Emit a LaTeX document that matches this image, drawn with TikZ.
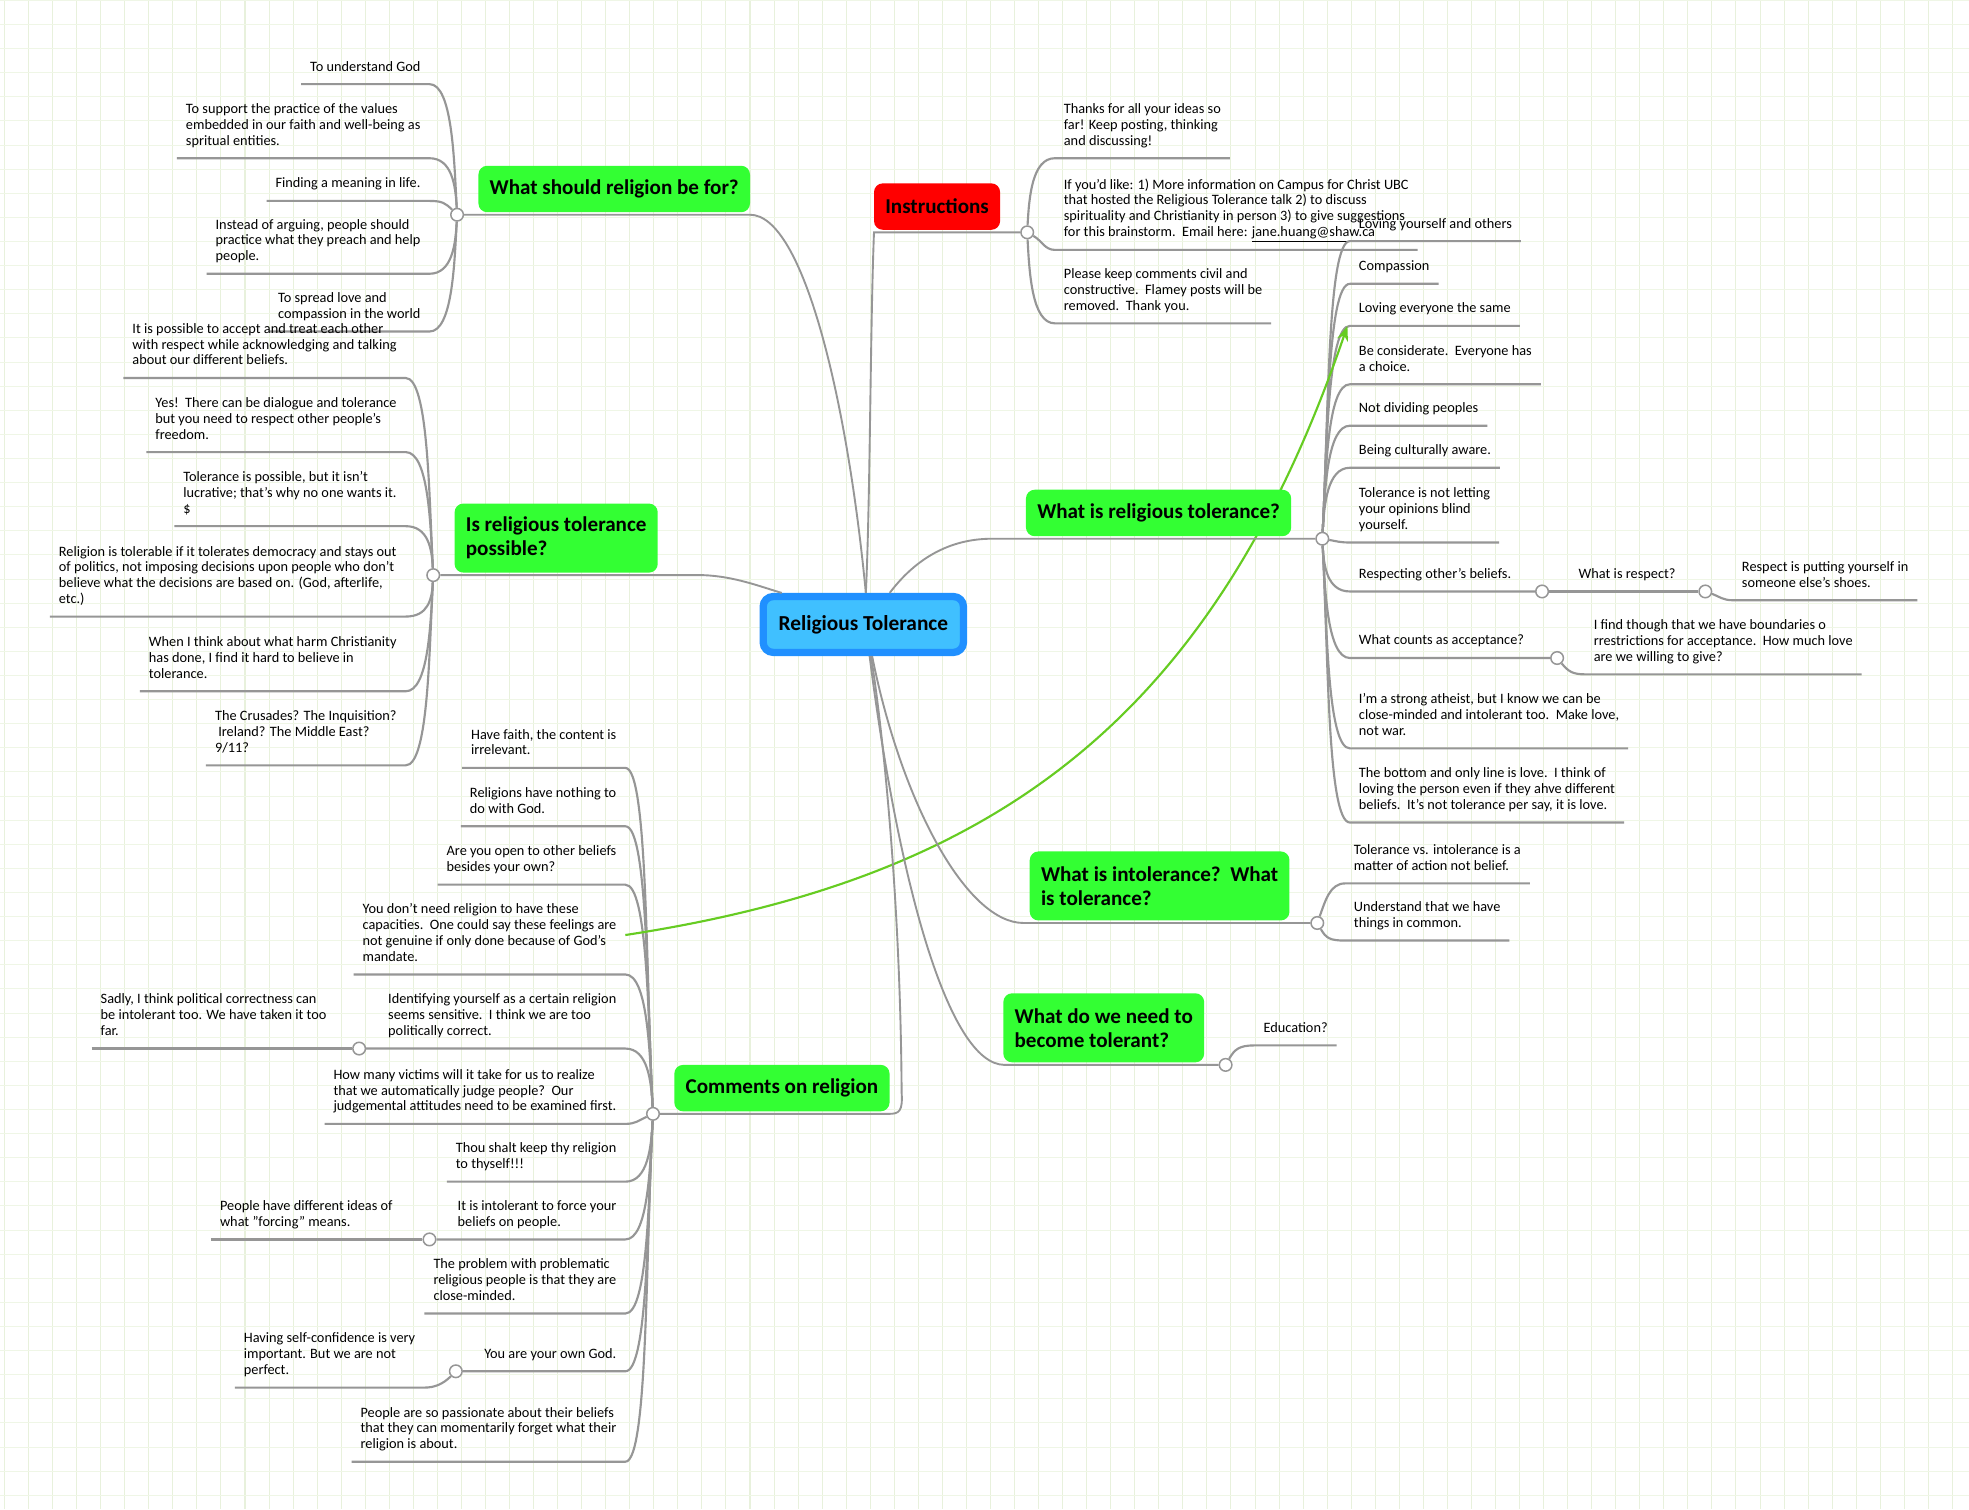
\documentclass[tikz,border=0pt]{standalone}
\usepackage{fontspec}
\setmainfont{Carlito}
\definecolor{linegrey}{RGB}{150,150,150}
\definecolor{vgrid}{RGB}{232,241,220}
\definecolor{hgrid}{RGB}{239,246,230}
\definecolor{topicgreen}{RGB}{51,255,51}
\definecolor{rootblue}{RGB}{64,192,255}
\definecolor{rootedge}{RGB}{32,144,255}
\definecolor{arrowgreen}{RGB}{102,204,34}
\usetikzlibrary{arrows.meta}
\tikzstyle{base}=[x=1pt, y=-1pt]
\tikzstyle{leaf}=[align=left, inner xsep=7pt, inner ysep=6.4pt, font=\fontsize{11.4}{12.6}\selectfont, execute at end node=\strut]
\tikzstyle{leafl}=[leaf, anchor=south east]
\tikzstyle{leafr}=[leaf, anchor=south west]
\tikzstyle{topic}=[align=left, anchor=south west, fill=topicgreen, rounded corners=7pt, inner xsep=9pt, inner ysep=9pt, outer xsep=0pt, outer ysep=2pt, minimum height=37pt, font=\fontsize{16.8}{19}\selectfont\bfseries]
\tikzstyle{topictwo}=[topic, minimum height=55pt]
\tikzstyle{hub}=[circle, draw=linegrey, fill=white, line width=1.2pt, minimum size=10pt, inner sep=0pt]
\tikzstyle{stem}=[draw=linegrey, line width=1.7pt]
\tikzstyle{trunk}=[draw=linegrey, line width=1.5pt]
\tikzstyle{upl}=[out=0, in=93, out distance=18pt]
\tikzstyle{dnl}=[out=0, in=-93, out distance=18pt]
\tikzstyle{upr}=[out=180, in=87, out distance=18pt]
\tikzstyle{dnr}=[out=180, in=-87, out distance=18pt]

\begin{document}
\begin{tikzpicture}[base]
    \path [use as bounding box, fill=white] (0,0) rectangle (1568,1201.7);
    \foreach \k in {0,...,81} \draw [vgrid, line width=0.8pt] ({3.6+19.15*\k},0) -- ({3.6+19.15*\k},1201.7);
    \foreach \k in {0,...,62} \draw [hgrid, line width=0.8pt] (0,{0.3+19.2*\k}) -- (1568,{0.3+19.2*\k});

    \node [draw=rootedge, fill=rootblue, line width=5.8pt, rounded corners=8pt, minimum width=159.5pt, minimum height=44.5pt, font=\fontsize{17}{19}\selectfont\bfseries] (root) at (687.5,497.3) {Religious Tolerance};

    \node [hub] (hubshould) at (364,171) {};
    \node [hub] (hubpossible) at (345,458) {};
    \node [hub] (hubcomments) at (520,887) {};
    \node [hub] (hubidentify) at (286,835) {};
    \node [hub] (hubforce) at (342,987) {};
    \node [hub] (hubgod) at (363,1092) {};
    \node [hub] (hubinstr) at (818,185) {};
    \node [hub] (hubwhat) at (1053,429) {};
    \node [hub] (hubrespect) at (1228,471) {};
    \node [hub] (hubwhatresp) at (1358,471) {};
    \node [hub] (hubaccept) at (1240,524) {};
    \node [hub] (hubintol) at (1049,735) {};
    \node [hub] (hubneed) at (976,848) {};

    \node [leafl] (understand) at (342,67) {To understand God};
    \node [leafl] (support) at (342,126) {To support the practice of the values\\embedded in our faith and well-being as\\spritual entities.};
    \node [leafl] (finding) at (342,160) {Finding a meaning in life.};
    \node [leafl] (instead) at (342,218) {Instead of arguing, people should\\practice what they preach and help\\people.};
    \node [leafl] (spread) at (342,264) {To spread love and\\compassion in the world};
    \draw [stem] (understand.south west) -- (understand.south east) to [upl] (hubshould);
    \draw [stem] (support.south west) -- (support.south east) to [upl] (hubshould);
    \draw [stem] (finding.south west) -- (finding.south east) to [out=0, in=135, out distance=10pt] (hubshould);
    \draw [stem] (instead.south west) -- (instead.south east) to [dnl] (hubshould);
    \draw [stem] (spread.south west) -- (spread.south east) to [dnl] (hubshould);

    \node [leafl] (accept) at (323,301) {It is possible to accept and treat each other\\with respect while acknowledging and talking\\about our different beliefs.};
    \node [leafl] (dialogue) at (323,360) {Yes!\ \ There can be dialogue and tolerance\\but you need to respect other people's\\freedom.};
    \node [leafl] (lucrative) at (323,419) {Tolerance is possible, but it isn't\\lucrative; that's why no one wants it.\\\$};
    \node [leafl] (democracy) at (323,491) {Religion is tolerable if it tolerates democracy and stays out\\of politics, not imposing decisions upon people who don't\\believe what the decisions are based on. (God, afterlife,\\etc.)};
    \node [leafl] (harm) at (323,550.5) {When I think about what harm Christianity\\has done, I find it hard to believe in\\tolerance.};
    \node [leafl] (crusades) at (323,609.5) {The Crusades? The Inquisition?\\\ Ireland? The Middle East?\\9/11?};
    \draw [stem] (accept.south west) -- (accept.south east) to [upl] (hubpossible);
    \draw [stem] (dialogue.south west) -- (dialogue.south east) to [upl] (hubpossible);
    \draw [stem] (lucrative.south west) -- (lucrative.south east) to [upl] (hubpossible);
    \draw [stem] (democracy.south west) -- (democracy.south east) to [dnl] (hubpossible);
    \draw [stem] (harm.south west) -- (harm.south east) to [dnl] (hubpossible);
    \draw [stem] (crusades.south west) -- (crusades.south east) to [dnl] (hubpossible);

    \node [leafl] (faith) at (498,611.5) {Have faith, the content is\\irrelevant.};
    \node [leafl] (nothing) at (498,658) {Religions have nothing to\\do with God.};
    \node [leafl] (open) at (498,704.5) {Are you open to other beliefs\\besides your own?};
    \node [leafl] (dontneed) at (498,776) {You don't need religion to have these\\capacities.\ \ One could say these feelings are\\not genuine if only done because of God's\\mandate.};
    \node [leafl] (identify) at (498,835) {Identifying yourself as a certain religion\\seems sensitive.\ \ I think we are too\\politically correct.};
    \node [leafr] (sadly) at (73,835) {Sadly, I think political correctness can\\be intolerant too. We have taken it too\\far.};
    \node [leafl] (victims) at (498,895) {How many victims will it take for us to realize\\that we automatically judge people?\ \ Our\\judgemental attitudes need to be examined first.};
    \node [leafl] (thou) at (498,941) {Thou shalt keep thy religion\\to thyself!!!};
    \node [leafl] (force) at (498,987) {It is intolerant to force your\\beliefs on people.};
    \node [leafr] (forcing) at (168,987) {People have different ideas of\\what "forcing" means.};
    \node [leafl] (problem) at (498,1046) {The problem with problematic\\religious people is that they are\\close-minded.};
    \node [leafl] (owngod) at (498,1092) {You are your own God.};
    \node [leafr] (confidence) at (187,1105) {Having self-confidence is very\\important. But we are not\\perfect.};
    \node [leafl] (passion) at (498,1164) {People are so passionate about their beliefs\\that they can momentarily forget what their\\religion is about.};
    \draw [stem] (faith.south west) -- (faith.south east) to [upl] (hubcomments);
    \draw [stem] (nothing.south west) -- (nothing.south east) to [upl] (hubcomments);
    \draw [stem] (open.south west) -- (open.south east) to [upl] (hubcomments);
    \draw [stem] (dontneed.south west) -- (dontneed.south east) to [upl] (hubcomments);
    \draw [stem] (hubidentify) -- (identify.south east) to [upl] (hubcomments);
    \draw [stem] (sadly.south west) -- (hubidentify);
    \draw [stem] (victims.south west) -- (victims.south east) to [out=0, in=205, out distance=8pt] (hubcomments);
    \draw [stem] (thou.south west) -- (thou.south east) to [dnl] (hubcomments);
    \draw [stem] (hubforce) -- (force.south east) to [dnl] (hubcomments);
    \draw [stem] (forcing.south west) -- (hubforce);
    \draw [stem] (problem.south west) -- (problem.south east) to [dnl] (hubcomments);
    \draw [stem] (hubgod) -- (owngod.south east) to [dnl] (hubcomments);
    \draw [stem] (confidence.south west) -- (confidence.south east) to [out=0, in=225, out distance=8pt] (hubgod);
    \draw [stem] (passion.south west) -- (passion.south east) to [dnl] (hubcomments);

    \node [leafr] (thanks) at (840,126) {Thanks for all your ideas so\\far! Keep posting, thinking\\and discussing!};
    \node [leafr] (like) at (840,199) {If you'd like: 1) More information on Campus for Christ UBC\\that hosted the Religious Tolerance talk 2) to discuss\\spirituality and Christianity in person 3) to give suggestions\\for this brainstorm.\ \ Email here: \underline{jane.huang@shaw.ca}};
    \node [leafr] (civil) at (840,257.5) {Please keep comments civil and\\constructive.\ \ Flamey posts will be\\removed.\ \ Thank you.};
    \draw [stem] (thanks.south east) -- (thanks.south west) to [upr] (hubinstr);
    \draw [stem] (like.south east) -- (like.south west) to [out=180, in=-30, out distance=8pt] (hubinstr);
    \draw [stem] (civil.south east) -- (civil.south west) to [dnr] (hubinstr);

    \node [leafr] (loving) at (1075,192) {Loving yourself and others};
    \node [leafr] (compassion) at (1075,226) {Compassion};
    \node [leafr] (everyone) at (1075,259.5) {Loving everyone the same};
    \node [leafr] (considerate) at (1075,306) {Be considerate.\ \ Everyone has\\a choice.};
    \node [leafr] (dividing) at (1075,339) {Not dividing peoples};
    \node [leafr] (aware) at (1075,372.5) {Being culturally aware.};
    \node [leafr] (blind) at (1075,432) {Tolerance is not letting\\your opinions blind\\yourself.};
    \node [leafr] (respecting) at (1075,471) {Respecting other's beliefs.};
    \node [leafr] (whatrespect) at (1250,471) {What is respect?};
    \node [leafr] (shoes) at (1380,478) {Respect is putting yourself in\\someone else's shoes.};
    \node [leafr] (counts) at (1075,524) {What counts as acceptance?};
    \node [leafr] (boundaries) at (1262,537) {I find though that we have boundaries o\\rrestrictions for acceptance.\ \ How much love\\are we willing to give?};
    \node [leafr] (atheist) at (1075,596) {I'm a strong atheist, but I know we can be\\close-minded and intolerant too.\ \ Make love,\\not war.};
    \node [leafr] (bottom) at (1075,655) {The bottom and only line is love.\ \ I think of\\loving the person even if they ahve different\\beliefs.\ \ It's not tolerance per say, it is love.};
    \draw [stem] (loving.south east) -- (loving.south west) to [upr] (hubwhat);
    \draw [stem] (compassion.south east) -- (compassion.south west) to [upr] (hubwhat);
    \draw [stem] (everyone.south east) -- (everyone.south west) to [upr] (hubwhat);
    \draw [stem] (considerate.south east) -- (considerate.south west) to [upr] (hubwhat);
    \draw [stem] (dividing.south east) -- (dividing.south west) to [upr] (hubwhat);
    \draw [stem] (aware.south east) -- (aware.south west) to [upr] (hubwhat);
    \draw [stem] (blind.south east) -- (blind.south west) to [out=180, in=-10, out distance=8pt] (hubwhat);
    \draw [stem] (hubrespect) -- (respecting.south west) to [dnr] (hubwhat);
    \draw [stem] (hubrespect) -- (hubwhatresp);
    \draw [stem] (shoes.south east) -- (shoes.south west) to [out=180, in=-20, out distance=8pt] (hubwhatresp);
    \draw [stem] (hubaccept) -- (counts.south west) to [dnr] (hubwhat);
    \draw [stem] (boundaries.south east) -- (boundaries.south west) to [out=180, in=-50, out distance=10pt] (hubaccept);
    \draw [stem] (atheist.south east) -- (atheist.south west) to [dnr] (hubwhat);
    \draw [stem] (bottom.south east) -- (bottom.south west) to [dnr] (hubwhat);

    \node [leafr] (action) at (1071,703.5) {Tolerance vs. intolerance is a\\matter of action not belief.};
    \node [leafr] (common) at (1071,749) {Understand that we have\\things in common.};
    \draw [stem] (action.south east) -- (action.south west) to [out=180, in=70, out distance=12pt] (hubintol);
    \draw [stem] (common.south east) -- (common.south west) to [out=180, in=-60, out distance=12pt] (hubintol);

    \node [leafr] (education) at (999,832.5) {Education?};
    \draw [stem] (education.south east) -- (education.south west) to [out=180, in=60, out distance=12pt] (hubneed);

    \draw [arrowgreen, line width=1.7pt, -{Stealth[length=12pt,width=9pt]}] (dontneed.east) .. controls (790,700) and (965,575) .. ([xshift=-2pt]everyone.south west);

    \node [topic, fill=red] (instr) at (696,185) {Instructions};
    \node [topic] (what) at (817,429) {What is religious tolerance?};
    \node [topictwo] (intol) at (820,735) {What is intolerance?\ \ What\\is tolerance?};
    \node [topictwo] (need) at (799,848) {What do we need to\\become tolerant?};
    \node [topic] (should) at (381,171) {What should religion be for?};
    \node [topictwo] (possible) at (362,458) {Is religious tolerance\\possible?};
    \node [topic] (comments) at (537,887) {Comments on religion};

    \draw [trunk] (hubinstr) -- (instr.south west) .. controls (693,260) and (693,400) .. ([xshift=2pt]root.north);
    \draw [trunk] (hubwhat) -- (what.south west) -- (790,429) .. controls (752,429) and (726,449) .. ([xshift=21pt]root.north);
    \draw [trunk] (hubintol) -- (intol.south west) -- (815,735) .. controls (770,735) and (718,640) .. ([xshift=7pt]root.south);
    \draw [trunk] (hubneed) -- (need.south west) -- (800,848) .. controls (755,848) and (715,700) .. ([xshift=5pt]root.south);
    \draw [trunk] (hubcomments) -- (comments.south east) -- (708,887) .. controls (716,887) and (719,885) .. (718,870) .. controls (717,700) and (700,560) .. ([xshift=6pt]root.south);
    \draw [trunk] (hubshould) -- (should.south east) .. controls (640,171) and (675,320) .. ([xshift=2pt]root.north);
    \draw [trunk] (hubpossible) -- (possible.south east) -- (560,458) .. controls (585,459) and (605,467) .. ([xshift=-65pt]root.north);
\end{tikzpicture}
\end{document}
